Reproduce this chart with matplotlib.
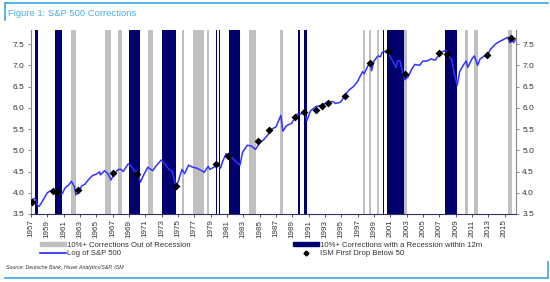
import numpy as np
import matplotlib
matplotlib.use("Agg")
import matplotlib.pyplot as plt
from matplotlib.lines import Line2D
from matplotlib.patches import Patch

plt.rcParams['font.family'] = ['Liberation Sans', 'DejaVu Sans']

# ---- data ----
# corrections out of recession (grey bands)
gray_start = [1956.9, 1961.9, 1966.1, 1967.7, 1971.3, 1975.5, 1976.9, 1977.2, 1978.6,
              1983.7, 1987.55, 1997.65, 1998.4, 1999.35, 2002.7, 2010.2, 2011.25, 2015.4]
gray_end = [1957.1, 1962.5, 1966.8, 1968.2, 1971.9, 1975.7, 1977.15, 1978.2, 1978.8,
            1984.6, 1987.9, 1997.85, 1998.7, 1999.6, 2003.1, 2010.5, 2011.7, 2015.95]
# corrections with a recession within 12m (navy bands)
navy_start = [1957.5, 1959.9, 1969.0, 1973.0, 1979.6, 1980.0, 1981.2, 1989.7, 1990.4,
              2000.05, 2000.6, 2007.7]
navy_end = [1957.8, 1960.8, 1970.4, 1974.8, 1979.8, 1980.2, 1982.6, 1990.0, 1990.75,
            2000.2, 2002.7, 2009.2]

# log of S&P 500
sp_t = [1957.0, 1957.25, 1957.5, 1957.8, 1958.0, 1958.3, 1958.6, 1959.0, 1959.4, 1959.7,
        1960.0, 1960.4, 1960.8, 1961.2, 1961.6, 1961.95, 1962.3, 1962.5, 1962.8, 1963.2,
        1963.6, 1964.0, 1964.5, 1965.0, 1965.4, 1965.5, 1966.0, 1966.4, 1966.8, 1967.2,
        1967.7, 1968.0, 1968.3, 1968.9, 1969.3, 1969.7, 1970.0, 1970.4, 1970.8, 1971.3,
        1971.9, 1972.4, 1972.95, 1973.5, 1973.9, 1974.3, 1974.75, 1975.0, 1975.5, 1975.8,
        1976.3, 1976.8, 1977.3, 1977.9, 1978.2, 1978.7, 1978.9, 1979.4, 1979.8, 1980.2,
        1980.5, 1980.9, 1981.5, 1982.0, 1982.6, 1982.9, 1983.5, 1984.0, 1984.5, 1985.0,
        1985.5, 1985.95, 1986.5, 1987.0, 1987.6, 1987.85, 1988.3, 1988.9, 1989.6, 1990.0,
        1990.5, 1990.8, 1991.2, 1991.9, 1992.5, 1993.0, 1993.9, 1994.3, 1994.9, 1995.5,
        1995.95, 1996.5, 1997.0, 1997.6, 1997.8, 1998.3, 1998.6, 1998.7, 1999.0, 1999.5,
        1999.8, 2000.0, 2000.2, 2000.7, 2001.0, 2001.3, 2001.7, 2001.9, 2002.2, 2002.55,
        2002.8, 2003.2, 2003.6, 2004.0, 2004.6, 2005.0, 2005.5, 2006.0, 2006.5, 2007.0,
        2007.2, 2007.5, 2007.8, 2008.2, 2008.5, 2008.85, 2009.2, 2009.5, 2010.0, 2010.3,
        2010.5, 2011.0, 2011.3, 2011.7, 2012.0, 2012.4, 2012.9, 2013.3, 2013.9, 2014.3,
        2014.8, 2015.4, 2015.65, 2015.9, 2016.1, 2016.35]
sp_v = [3.81, 3.85, 3.87, 3.70, 3.68, 3.77, 3.87, 4.00, 4.05, 4.06,
        4.07, 4.00, 3.97, 4.12, 4.18, 4.27, 4.15, 3.95, 4.00, 4.16,
        4.20, 4.30, 4.40, 4.44, 4.49, 4.42, 4.52, 4.45, 4.30, 4.45,
        4.55, 4.55, 4.50, 4.68, 4.62, 4.50, 4.50, 4.25, 4.42, 4.60,
        4.52, 4.65, 4.77, 4.65, 4.55, 4.50, 4.15, 4.25, 4.55, 4.45,
        4.65, 4.60, 4.58, 4.52, 4.48, 4.62, 4.55, 4.60, 4.67, 4.58,
        4.75, 4.92, 4.85, 4.75, 4.65, 4.95, 5.12, 5.10, 5.02, 5.18,
        5.25, 5.35, 5.50, 5.55, 5.82, 5.45, 5.58, 5.63, 5.85, 5.85,
        5.90, 5.70, 5.92, 6.03, 6.05, 6.10, 6.15, 6.10, 6.13, 6.30,
        6.42, 6.50, 6.62, 6.85, 6.80, 7.00, 7.10, 6.87, 7.10, 7.22,
        7.20, 7.30, 7.33, 7.30, 7.20, 7.10, 6.95, 7.10, 7.10, 6.80,
        6.66, 6.73, 6.90, 7.02, 7.00, 7.10, 7.10, 7.15, 7.12, 7.25,
        7.30, 7.33, 7.35, 7.20, 7.15, 6.80, 6.53, 6.85, 7.02, 7.10,
        6.95, 7.15, 7.22, 7.00, 7.15, 7.20, 7.25, 7.38, 7.50, 7.55,
        7.60, 7.66, 7.53, 7.63, 7.53, 7.62]

# ISM first drop below 50
ism_t = [1957.1, 1959.65, 1960.2, 1962.7, 1967.1, 1970.0, 1974.7, 1979.6, 1981.1, 1984.8,
         1986.2, 1989.35, 1990.4, 1991.9, 1992.7, 1993.4, 1995.4, 1998.5, 2000.7, 2002.8,
         2007.0, 2007.9, 2012.85, 2015.8]
ism_v = [3.79, 4.05, 4.02, 4.07, 4.46, 4.45, 4.16, 4.68, 4.86, 5.22,
         5.48, 5.79, 5.90, 5.95, 6.04, 6.12, 6.28, 7.05, 7.33, 6.79,
         7.28, 7.27, 7.24, 7.65]

year_ticks = list(range(1957, 2016, 2))
y_ticks = [3.5, 4.0, 4.5, 5.0, 5.5, 6.0, 6.5, 7.0, 7.5]

gray_c = '#c0c0c0'
navy_c = '#00006e'
line_c = '#3333ff'
frame_c = '#4aaee6'

fig = plt.figure(figsize=(5.5, 2.82), dpi=100)
ax = fig.add_axes([31/550, 1-214/282, (516-31)/550, (214-30)/282])

for a, b in zip(gray_start, gray_end):
    ax.axvspan(a, b, color=gray_c, lw=0, zorder=1)
for a, b in zip(navy_start, navy_end):
    ax.axvspan(a, b, color=navy_c, lw=0, zorder=1)

ax.plot(sp_t, sp_v, color=line_c, lw=1.1, zorder=3)
ax.scatter(ism_t, ism_v, marker='D', s=16, color='black', zorder=4, lw=0)

ax.set_xlim(1957.0, 2016.4)
ax.set_ylim(3.5, 7.83)
ax.set_xticks(year_ticks)
ax.set_xticklabels([str(y) for y in year_ticks], rotation=90, fontsize=5.8, color='#333333')
ax.set_yticks(y_ticks)
ax.set_yticklabels(['%.1f' % v for v in y_ticks], fontsize=6, color='#333333')
ax.tick_params(axis='y', which='both', left=True, right=True, labelleft=True,
               labelright=True, length=2.5, width=0.6, color='#777777', pad=2)
ax.tick_params(axis='x', length=2.5, width=0.6, color='#333366', pad=1.5)
ax.spines['top'].set_visible(False)
for s in ['left', 'right']:
    ax.spines[s].set_color('#888888')
    ax.spines[s].set_linewidth(0.8)
ax.spines['bottom'].set_color('#333366')
ax.spines['bottom'].set_linewidth(0.8)

# legend in two blocks
h1 = [Patch(color=gray_c), Line2D([], [], color='#2222ff', lw=1.2)]
l1 = ['10%+ Corrections Out of Recession', 'Log of S&P 500']
h2 = [Patch(color=navy_c), Line2D([], [], color='black', marker='D', ms=2.5, lw=0)]
l2 = ['10%+ Corrections with a Recession within 12m', 'ISM First Drop Below 50']
leg1 = fig.legend(h1, l1, loc='upper left', bbox_to_anchor=(36/550, 1-238/282),
                  frameon=False, fontsize=5.6, handlelength=3.3, handleheight=0.5,
                  handletextpad=0.2, labelspacing=0.15, borderpad=0)
leg2 = fig.legend(h2, l2, loc='upper left', bbox_to_anchor=(289/550, 1-238/282),
                  frameon=False, fontsize=5.6, handlelength=3.3, handleheight=0.5,
                  handletextpad=0.2, labelspacing=0.15, borderpad=0)
for lg in (leg1, leg2):
    for t in lg.get_texts():
        t.set_color('#333333')

fig.text(8/550, 1-13/282, 'Figure 1: S&P 500 Corrections', fontsize=6.8,
         color=frame_c, va='center', ha='left')
fig.text(6/550, 1-267/282, 'Source: Deutsche Bank, Haver Analytics/S&P, ISM',
         fontsize=3.8, style='italic', color='#333333', va='center', ha='left')

# report-style frame lines
fig.add_artist(Line2D([5/550, 548/550], [1-3/282, 1-3/282], color=frame_c, lw=1.3))
fig.add_artist(Line2D([5/550, 5/550], [1-3/282, 1-20/282], color=frame_c, lw=1.3))
fig.add_artist(Line2D([5/550, 548/550], [1-278/282, 1-278/282], color=frame_c, lw=1.3))
fig.add_artist(Line2D([548/550, 548/550], [1-262/282, 1-278/282], color=frame_c, lw=1.3))

fig.savefig('out.png', dpi=100)
